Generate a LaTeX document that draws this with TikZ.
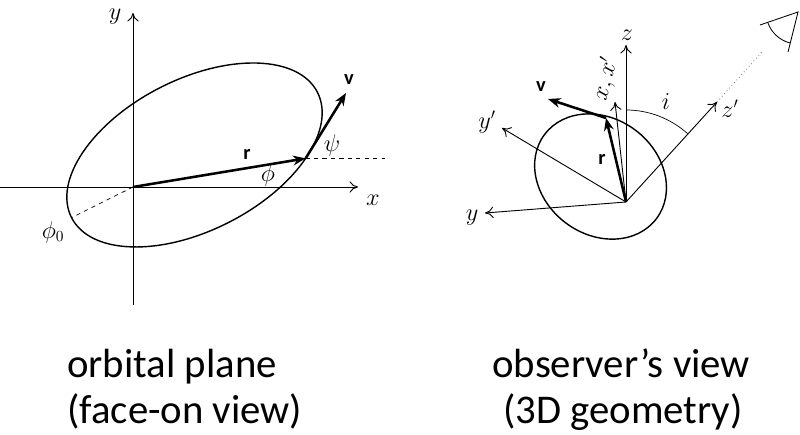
\documentclass[tikz,border=0pt]{standalone}
\usepackage{amsmath}
\usepackage{fontspec}
\setmainfont{Carlito}
\usepackage{tikz}
\usetikzlibrary{arrows.meta,calc}
\tikzset{
  axis/.style={line width=0.65pt,-{To[length=6pt,width=8pt]}},
  vec/.style={line width=1.8pt,-{Stealth[length=9pt,width=7pt]}},
  orbit/.style={line width=1pt},
  lab/.style={font=\fontsize{16}{19}\selectfont,inner sep=1pt},
  blab/.style={font=\fontsize{14.5}{17}\selectfont\bfseries,inner sep=1pt},
  captext/.style={font=\fontsize{29}{35}\selectfont,anchor=base west,inner sep=0pt},
}

\begin{document}
\begin{tikzpicture}[scale=0.5]
\useasboundingbox (0,0) rectangle (40,21.7);
% orbital plane
\coordinate (O) at (6.65,12.35);
\coordinate (xl) at (0,12.35);
\coordinate (xr) at (17.9,12.35);
\coordinate (yb) at (6.65,6.45);
\coordinate (yt) at (6.65,21.05);
\coordinate (C) at (9.725,13.95);
\coordinate (peri) at (3.58,10.82);
\coordinate (P) at (15.28,13.78);
\coordinate (V) at (17.3,17.05);
\coordinate (hz) at (19.25,13.78);
\draw[axis] (xl) -- (xr);
\draw[axis] (yb) -- (yt);
\draw[orbit,rotate around={27:(C)}] (C) ellipse (6.9 and 3.78);
\draw[dashed,line width=0.5pt] (O) -- (peri);
\draw[dashed,line width=0.5pt] (P) -- (hz);
\draw[vec] (O) -- (P);
\draw[vec] (P) -- (V);
\node[lab] (ylab) at (5.75,20.85) {$y$};
\node[lab] (xlab) at (18.65,11.7) {$x$};
\node[lab] (phizero) at (2.65,10.1) {$\phi_0$};
\node[lab] (philab) at (13.4,12.95) {$\phi$};
\node[lab] (psilab) at (16.6,14.45) {$\psi$};
\node[blab] (rlab) at (12.35,14.0) {r};
\node[blab] (vlab) at (17.45,17.7) {v};
% observer's view
\coordinate (Q) at (31.3,11.6);
\coordinate (zt) at (31.3,19.45);
\coordinate (xxt) at (30.75,16.6);
\coordinate (ypt) at (25.1,15.3);
\coordinate (yyt) at (24.25,11.05);
\coordinate (zpt) at (35.85,16.6);
\coordinate (los) at (38.1,19.1);
\coordinate (D) at (30.025,12.875);
\coordinate (R) at (30.3,15.8);
\coordinate (W) at (27.4,16.75);
\draw[orbit,rotate around={-37:(D)}] (D) ellipse (3.5 and 2.9);
\foreach \t in {zt,xxt,ypt,yyt,zpt} \draw[axis] (Q) -- (\t);
\draw[dotted,gray,line width=0.6pt] (zpt) -- (los);
\draw[line width=0.5pt] (Q) ++(90:4.6) arc[start angle=90,end angle=48,radius=4.6];
\draw[vec] (Q) -- (R);
\draw[vec] (R) -- (W);
\node[lab] (zlab) at (31.35,19.95) {$z$};
\node[lab,rotate=75,inner sep=0pt] (xxlab) at (30.28,17.75) {$x,x'$};
\node[lab] (yplab) at (24.35,15.6) {$y'$};
\node[lab] (yylab) at (23.6,10.8) {$y$};
\node[lab] (zplab) at (36.5,16.25) {$z'$};
\node[lab] (ilab) at (33.3,16.6) {$i$};
\node[blab] (rlabb) at (30.1,13.75) {r};
\node[blab] (vlabb) at (27.05,17.35) {v};
% eye
\coordinate (E) at (39.9,21.1);
\coordinate (ea) at (38.0,20.45);
\coordinate (eb) at (39.4,19.1);
\draw[line width=0.6pt] (ea) -- (E) -- (eb);
\draw[line width=0.6pt] (E) ++(200:1.6) arc[start angle=200,end angle=255,radius=1.6];
% captions
\node[captext] (cap1) at (3.35,2.85) {orbital plane};
\node[captext] (cap2) at (3.35,0.55) {(face-on view)};
\node[captext] (cap3) at (24.6,2.85) {observer’s view};
\node[captext] (cap4) at (25.15,0.55) {(3D geometry)};
\end{tikzpicture}
\end{document}
